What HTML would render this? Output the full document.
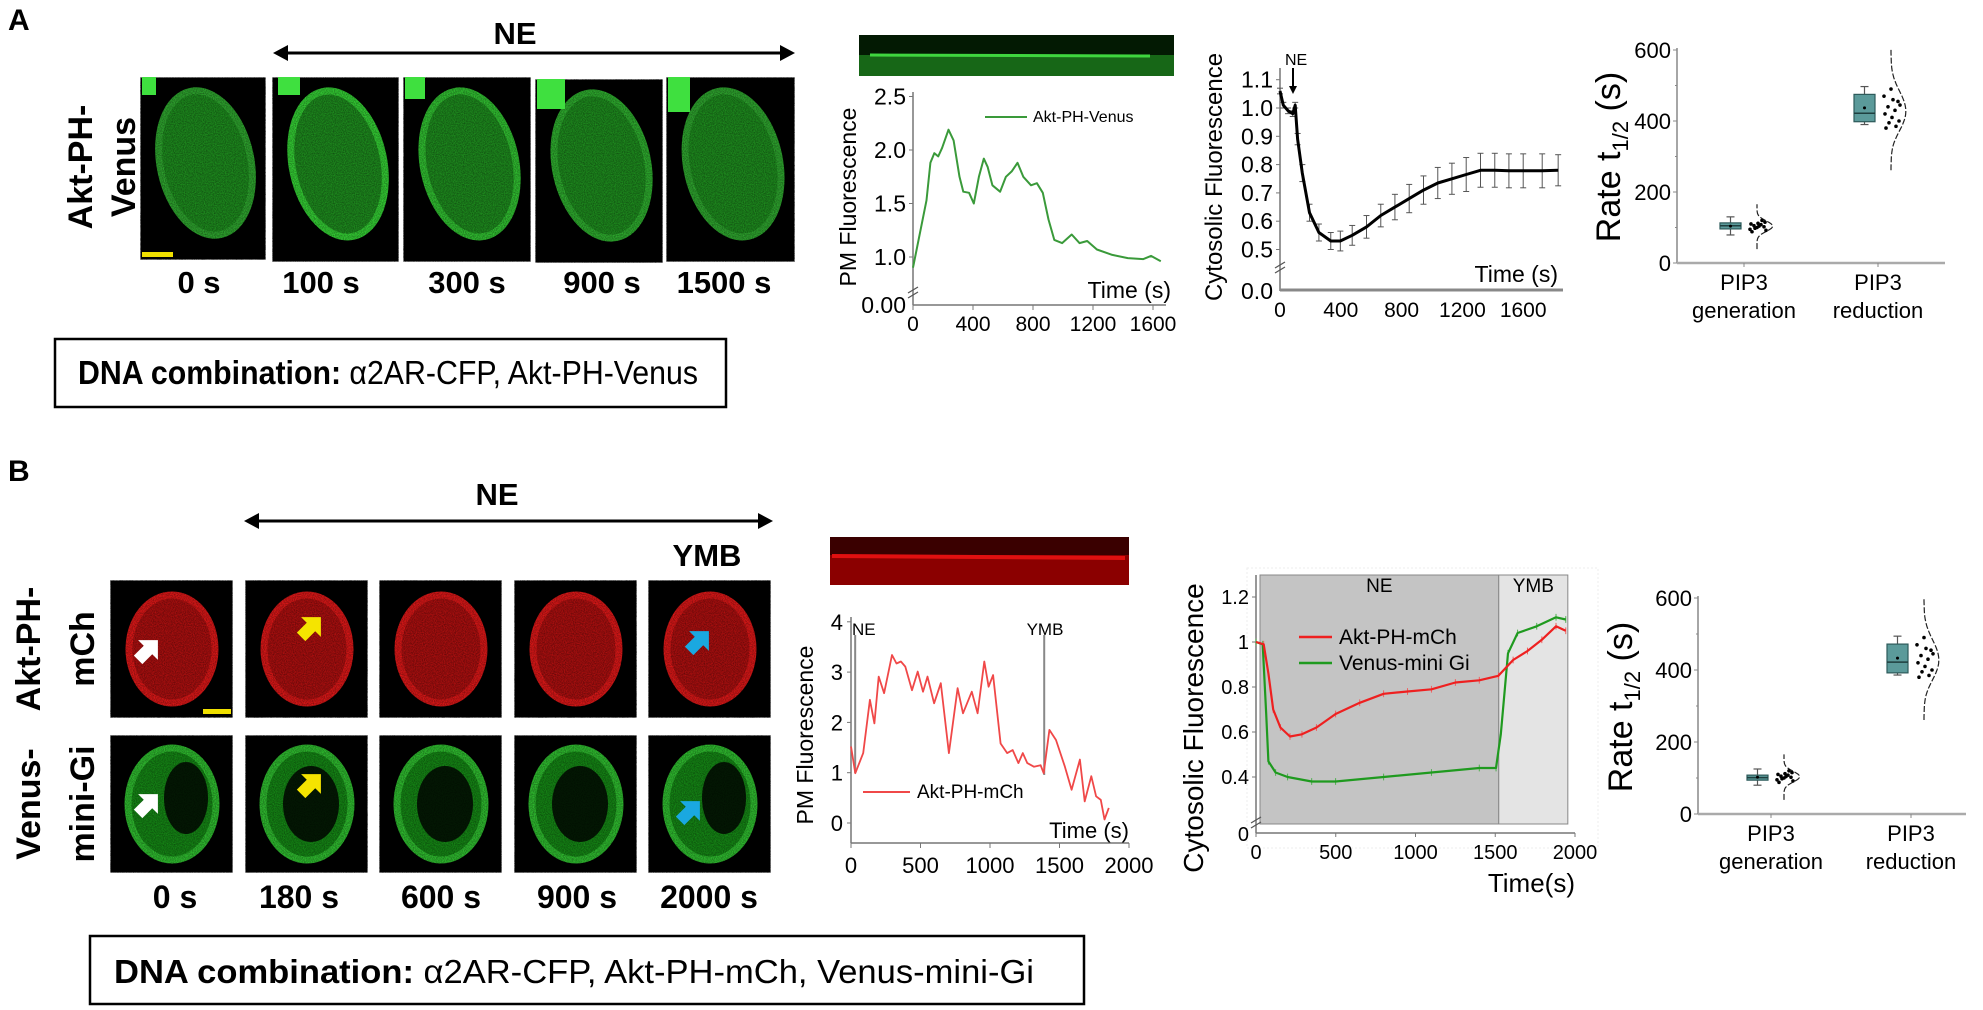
<!DOCTYPE html>
<html><head><meta charset="utf-8"><style>
html,body{margin:0;padding:0;background:#fff;}
svg{display:block;font-family:"Liberation Sans",Arial,sans-serif;}
</style></head><body>
<svg id="fig" width="1983" height="1010" viewBox="0 0 1983 1010" xmlns="http://www.w3.org/2000/svg">
<defs>
<filter id="noise" x="0" y="0" width="100%" height="100%"><feTurbulence type="fractalNoise" baseFrequency="0.9" numOctaves="2" seed="3"/><feColorMatrix type="matrix" values="0 0 0 0 0  0 0 0 0 0  0 0 0 0 0  0 0 0 -1.4 1.1"/><feComposite in2="SourceGraphic" operator="in"/></filter>
</defs>
<!-- Panel A static text -->
<text x="8" y="30" font-size="30" font-weight="bold">A</text>
<text x="515" y="44" font-size="31" font-weight="bold" text-anchor="middle">NE</text>
<g stroke="#000" stroke-width="3" fill="#000">
<line x1="283" y1="53" x2="785" y2="53"/><polygon points="273,53 288,45 288,61" stroke="none"/><polygon points="795,53 780,45 780,61" stroke="none"/></g>
<text transform="translate(92,167) rotate(-90)" font-size="34" font-weight="bold" text-anchor="middle">Akt-PH-</text>
<text transform="translate(135,167) rotate(-90)" font-size="34" font-weight="bold" text-anchor="middle">Venus</text>
<g id="cellsA"></g>
<g font-size="31" font-weight="bold" text-anchor="middle">
<text x="199" y="293">0 s</text>
<text x="321" y="293">100 s</text>
<text x="467" y="293">300 s</text>
<text x="602" y="293">900 s</text>
<text x="724" y="293">1500 s</text></g>
<rect x="55" y="339" width="671" height="68" fill="none" stroke="#000" stroke-width="2.5"/>
<text x="78" y="384" font-size="33" textLength="620" lengthAdjust="spacingAndGlyphs"><tspan font-weight="bold">DNA combination:</tspan> α2AR-CFP, Akt-PH-Venus</text>
<rect x="859" y="35" width="315" height="41" fill="#031a03"/>
<rect x="859" y="55" width="315" height="21" fill="#1d7a1d" opacity="0.8"/>
<line x1="870" y1="55" x2="1150" y2="56" stroke="#3fd63f" stroke-width="3"/>

<!-- Panel B static text -->
<text x="8" y="481" font-size="30" font-weight="bold">B</text>
<text x="497" y="505" font-size="31" font-weight="bold" text-anchor="middle">NE</text>
<g stroke="#000" stroke-width="3" fill="#000">
<line x1="254" y1="521" x2="763" y2="521"/><polygon points="244,521 259,513 259,529" stroke="none"/><polygon points="773,521 758,513 758,529" stroke="none"/></g>
<text x="707" y="566" font-size="31" font-weight="bold" text-anchor="middle">YMB</text>
<text transform="translate(40,649) rotate(-90)" font-size="34" font-weight="bold" text-anchor="middle">Akt-PH-</text>
<text transform="translate(94,649) rotate(-90)" font-size="34" font-weight="bold" text-anchor="middle">mCh</text>
<text transform="translate(40,804) rotate(-90)" font-size="34" font-weight="bold" text-anchor="middle">Venus-</text>
<text transform="translate(94,804) rotate(-90)" font-size="34" font-weight="bold" text-anchor="middle">mini-Gi</text>
<g id="cellsB"></g>
<g font-size="32" font-weight="bold" text-anchor="middle">
<text x="175" y="908">0 s</text>
<text x="299" y="908">180 s</text>
<text x="441" y="908">600 s</text>
<text x="577" y="908">900 s</text>
<text x="709" y="908">2000 s</text></g>
<rect x="90" y="936" width="994" height="68" fill="none" stroke="#000" stroke-width="2.5"/>
<text x="114" y="983" font-size="33" textLength="920" lengthAdjust="spacingAndGlyphs"><tspan font-weight="bold">DNA combination:</tspan> α2AR-CFP, Akt-PH-mCh, Venus-mini-Gi</text>
<rect x="830" y="537" width="299" height="48" fill="#3a0000"/>
<rect x="830" y="555" width="299" height="30" fill="#a00000" opacity="0.8"/>
<line x1="832" y1="556" x2="1125" y2="558" stroke="#e01010" stroke-width="4"/>
<g id="charts"></g>
</svg>
<script>
// ===== Data: PM fluorescence, panel A =====
var pmATime = [0,90,116,142,168,194,237,271,310,335,374,405,439,472,498,529,581,619,658,697,735,787,826,865,903,942,994,1058,1110,1161,1226,1329,1432,1535,1587,1652];
var pmAValue = [0.90,1.53,1.88,1.97,1.94,2.02,2.19,2.09,1.75,1.61,1.60,1.50,1.75,1.92,1.84,1.67,1.61,1.75,1.80,1.88,1.75,1.67,1.69,1.60,1.35,1.16,1.13,1.21,1.13,1.15,1.07,1.02,0.99,0.98,1.01,0.96];
var pmAYTicks = [1.0,1.5,2.0,2.5];
var pmAXTicks = [0,400,800,1200,1600];
// ===== Data: cytosolic, panel A =====
var cytATime = [0,22,53,84,100,116,147,194,256,334,397,475,569,663,756,850,944,1038,1131,1225,1319,1413,1506,1600,1725,1830];
var cytAValue = [1.06,1.01,0.99,0.98,1.01,0.89,0.77,0.63,0.56,0.53,0.53,0.55,0.58,0.62,0.65,0.68,0.71,0.735,0.75,0.765,0.78,0.78,0.778,0.778,0.778,0.78];
var cytAErr = [0.01,0.01,0.01,0.01,0.01,0.02,0.03,0.03,0.03,0.03,0.035,0.035,0.04,0.04,0.045,0.05,0.05,0.055,0.055,0.06,0.06,0.06,0.06,0.06,0.06,0.055];
var cytAYTicks = [0.5,0.6,0.7,0.8,0.9,1.0,1.1];
var cytAXTicks = [0,400,800,1200,1600];
// ===== Data: box plots =====
var boxCategories = ["generation","reduction"];
var boxAStats = [[79,96,105,113,130,104],[390,398,422,475,497,437]]; // min,q1,median,q3,max,mean
var boxBStats = [[80,94,101,108,125,102],[386,392,422,472,494,433]];
var dotsGen = [95,100,102,105,108,110,112,115,98,120,88,104,92];
var dotsRed = [470,490,455,440,430,420,410,400,395,385,380,460,445];
var boxYTicks = [0,200,400,600];
// ===== Data: PM fluorescence, panel B =====
var pmBTime = [0,31,88,136,168,199,238,295,327,359,391,439,480,518,550,598,646,704,767,806,869,911,959,990,1022,1076,1124,1163,1204,1236,1268,1316,1364,1386,1427,1475,1539,1587,1647,1681,1729,1763,1797,1824,1855];
var pmBValue = [1.52,0.99,1.39,2.45,1.98,2.91,2.58,3.34,3.17,3.21,3.11,2.64,3.01,2.61,2.91,2.38,2.78,1.39,2.68,2.18,2.61,2.18,3.21,2.71,2.94,1.58,1.39,1.45,1.19,1.39,1.19,1.12,1.15,0.99,1.85,1.65,1.12,0.66,1.26,0.43,0.93,0.53,0.46,0.07,0.30];
var pmBYTicks = [0,1,2,3,4];
var pmBXTicks = [0,500,1000,1500,2000];
// ===== Data: cytosolic, panel B =====
var cytBRedTime = [0,48,78,108,153,213,288,379,499,650,800,950,1100,1250,1400,1520,1612,1702,1792,1881,1942];
var cytBRedValue = [1.0,0.99,0.86,0.70,0.62,0.58,0.59,0.62,0.68,0.73,0.77,0.78,0.79,0.82,0.83,0.85,0.92,0.96,1.01,1.07,1.05];
var cytBGreenTime = [0,42,64,78,123,198,349,499,800,1100,1400,1505,1535,1580,1640,1760,1881,1942];
var cytBGreenValue = [1.0,0.99,0.68,0.47,0.42,0.40,0.38,0.38,0.40,0.42,0.44,0.44,0.59,0.95,1.04,1.07,1.11,1.10];
var cytBYTicks = [0.4,0.6,0.8,1,1.2];
var cytBXTicks = [0,500,1000,1500,2000];
var cytBPhases = [["NE",0,1522],["YMB",1522,1955]];

var NS = "http://www.w3.org/2000/svg";
var root = document.getElementById("charts");
function mk(tag, attrs, parent, name){
  var el = document.createElementNS(NS, tag);
  for (var k in attrs) el.setAttribute(k, attrs[k]);
  
  
  (parent||root).appendChild(el);
  return el;
}
function txt(x,y,s,size,anchor,name,extra){
  var a = {x:x,y:y,"font-size":size,"text-anchor":anchor||"start"};
  if (extra) for (var k in extra) a[k]=extra[k];
  var t = mk("text", a, root, name);
  t.textContent = s;
  return t;
}
function poly(xs, ys, fx, fy, color, w, name){
  var p = [];
  for (var i=0;i<xs.length;i++) p.push(fx(xs[i]).toFixed(1)+","+fy(ys[i]).toFixed(1));
  return mk("polyline",{points:p.join(" "),fill:"none",stroke:color,"stroke-width":w,"stroke-linejoin":"round"},root,name);
}
function brk(x,y){
  mk("path",{d:"M"+(x-5)+","+(y+3)+" l10,-6 M"+(x-5)+","+(y+8)+" l10,-6",stroke:"#555","stroke-width":1.3,fill:"none"},root,"axis-break");
}

// ===== Cells =====
function cell(g, x, y, w, h, col, fill, mem, cx, cy, rx, ry, rot, name, nuc){
  mk("rect",{x:x,y:y,width:w,height:h,fill:"#000",stroke:"#fff","stroke-width":1},g,name);
  mk("ellipse",{cx:cx,cy:cy,rx:rx,ry:ry,fill:fill,stroke:mem,"stroke-width":7,transform:"rotate("+rot+" "+cx+" "+cy+")"},g,name+"-cell");
  if (nuc) mk("ellipse",{cx:cx+nuc[0],cy:cy+nuc[1],rx:nuc[2],ry:nuc[3],fill:"#041a04"},g,name+"-nucleus");
  mk("rect",{x:x,y:y,width:w,height:h,fill:"#000",filter:"url(#noise)",opacity:0.5},g,name+"-texture");
}
var gA = document.getElementById("cellsA");
var imgA = [[140,77,126,183],[272,77,127,185],[403,77,128,185],[535,79,128,184],[666,77,129,185]];
var memA = ["#2fa82f","#35d235","#32c432","#2fb02f","#2fa82f"];
for (var i=0;i<imgA.length;i++){
  var r=imgA[i];
  cell(gA,r[0],r[1],r[2],r[3],"g","#1f8f1f",memA[i],r[0]+r[2]*0.52,r[1]+r[3]*0.47,r[2]*0.36,r[3]*0.4,-12,"cell-image-a-"+i);
}
mk("rect",{x:278,y:77,width:22,height:18,fill:"#3fe03f"},gA,"bright-debris");
mk("rect",{x:142,y:77,width:14,height:18,fill:"#3fe03f"},gA,"bright-debris");
mk("rect",{x:405,y:77,width:20,height:22,fill:"#3fe03f"},gA,"bright-debris");
mk("rect",{x:537,y:79,width:28,height:30,fill:"#3fe03f"},gA,"bright-debris");
mk("rect",{x:668,y:77,width:22,height:35,fill:"#3fe03f"},gA,"bright-debris");
mk("rect",{x:142,y:252,width:31,height:5,fill:"#f0e000"},gA,"scale-bar-a");

var gB = document.getElementById("cellsB");
var colsB = [110,245,379,514,648];
for (var i=0;i<5;i++){
  cell(gB,colsB[i],580,123,138,"r","#b01010","#e01818",colsB[i]+62,649,43,54,0,"cell-image-mch-"+i,null);
  cell(gB,colsB[i],735,123,138,"g","#168a16","#30c030",colsB[i]+62,804,44,56,0,"cell-image-venus-"+i,(i==0||i==4)?[14,-6,22,36]:[4,0,28,38]);
}
mk("rect",{x:203,y:709,width:28,height:5,fill:"#f0e000"},gB,"scale-bar-b");
function bigArrow(x,y,col,name){
  mk("path",{d:"M0,-14 L14,0 L6,0 L6,14 L-6,14 L-6,0 L-14,0 Z",fill:col,transform:"translate("+x+","+y+") rotate(45)"},gB,name);
}
bigArrow(148,650,"#fff","white-arrow-mch");
bigArrow(311,627,"#f5e400","yellow-arrow-mch");
bigArrow(699,641,"#1aa8e0","blue-arrow-mch");
bigArrow(148,804,"#fff","white-arrow-venus");
bigArrow(311,784,"#f5e400","yellow-arrow-venus");
bigArrow(690,811,"#1aa8e0","blue-arrow-venus");

// ===== PM chart A =====
(function(){
  var X=function(t){return 913+t*0.15;}, Y=function(v){return 257-(v-1)*107;};
  mk("line",{x1:913,y1:92,x2:913,y2:305,stroke:"#777","stroke-width":1.5},root,"pm-a-y-axis");
  mk("line",{x1:913,y1:305,x2:1166,y2:305,stroke:"#777","stroke-width":1.5},root,"pm-a-x-axis");
  brk(913,290);
  pmAYTicks.forEach(function(v){
    mk("line",{x1:909,y1:Y(v),x2:913,y2:Y(v),stroke:"#777"},root,"pm-a-y-tick");
    txt(906,Y(v)+8,v.toFixed(1),23,"end","pm-a-y-tick-label");
  });
  txt(906,313,"0.00",23,"end","pm-a-y-tick-label");
  pmAXTicks.forEach(function(t){
    mk("line",{x1:X(t),y1:305,x2:X(t),y2:310,stroke:"#777"},root,"pm-a-x-tick");
    txt(X(t),331,String(t),21,"middle","pm-a-x-tick-label");
  });
  poly(pmATime,pmAValue,X,Y,"#3a9a3a",2,"pm-a-line");
  mk("line",{x1:985,y1:117,x2:1027,y2:117,stroke:"#3a9a3a","stroke-width":2},root,"pm-a-legend-line");
  txt(1033,122,"Akt-PH-Venus",16,"start","pm-a-legend-text");
  txt(1171,298,"Time (s)",23,"end","pm-a-x-title");
  txt(0,0,"PM Fluorescence",23,"middle","pm-a-y-title",{transform:"translate(856,197) rotate(-90)"});
})();

// ===== Cyto chart A =====
(function(){
  var X=function(t){return 1280+t*0.152;}, Y=function(v){return 108-(v-1)*283;};
  mk("line",{x1:1280,y1:68,x2:1280,y2:291,stroke:"#777","stroke-width":1.5},root,"cyt-a-y-axis");
  mk("line",{x1:1280,y1:290,x2:1563,y2:290,stroke:"#888","stroke-width":3},root,"cyt-a-x-axis");
  brk(1280,265);
  cytAYTicks.forEach(function(v){
    mk("line",{x1:1276,y1:Y(v),x2:1280,y2:Y(v),stroke:"#777"},root,"cyt-a-y-tick");
    txt(1273,Y(v)+8,v.toFixed(1),23,"end","cyt-a-y-tick-label");
  });
  txt(1273,299,"0.0",23,"end","cyt-a-y-tick-label");
  cytAXTicks.forEach(function(t){
    txt(X(t),317,String(t),21,"middle","cyt-a-x-tick-label");
  });
  for (var i=0;i<cytATime.length;i++){
    var x=X(cytATime[i]);
    mk("line",{x1:x,y1:Y(cytAValue[i]+cytAErr[i]),x2:x,y2:Y(cytAValue[i]-cytAErr[i]),stroke:"#555","stroke-width":1},root,"cyt-a-error-bar");
    mk("line",{x1:x-3,y1:Y(cytAValue[i]+cytAErr[i]),x2:x+3,y2:Y(cytAValue[i]+cytAErr[i]),stroke:"#555","stroke-width":1},root,"cyt-a-error-cap");
    mk("line",{x1:x-3,y1:Y(cytAValue[i]-cytAErr[i]),x2:x+3,y2:Y(cytAValue[i]-cytAErr[i]),stroke:"#555","stroke-width":1},root,"cyt-a-error-cap");
  }
  poly(cytATime,cytAValue,X,Y,"#000",3,"cyt-a-line");
  txt(1285,65,"NE",16,"start","cyt-a-ne-label");
  mk("line",{x1:1293,y1:68,x2:1293,y2:88,stroke:"#000","stroke-width":2},root,"cyt-a-ne-arrow");
  mk("polygon",{points:"1289,86 1297,86 1293,94"},root,"cyt-a-ne-arrowhead");
  txt(1558,282,"Time (s)",23,"end","cyt-a-x-title");
  txt(0,0,"Cytosolic Fluorescence",24,"middle","cyt-a-y-title",{transform:"translate(1222,177) rotate(-90)"});
})();

// ===== Box plots =====
function boxPlot(ax, y0, yTop, cats, stats, yScale, tag){
  var Y=function(v){return y0 - v*yScale;};
  mk("line",{x1:ax,y1:Y(600)-2,x2:ax,y2:y0,stroke:"#888","stroke-width":1.5},root,tag+"-y-axis");
  mk("line",{x1:ax,y1:y0,x2:ax+268,y2:y0,stroke:"#aaa","stroke-width":2.5},root,tag+"-x-axis");
  boxYTicks.forEach(function(v){
    mk("line",{x1:ax-4,y1:Y(v),x2:ax,y2:Y(v),stroke:"#888"},root,tag+"-y-tick");
    txt(ax-6,Y(v)+8,String(v),22,"end",tag+"-y-tick-label");
  });
  [100,300,500].forEach(function(v){ mk("line",{x1:ax-2,y1:Y(v),x2:ax,y2:Y(v),stroke:"#888"},root,tag+"-minor-tick"); });
  var dotsets=[dotsGen,dotsRed];
  for (var c=0;c<cats.length;c++){
    var cx=cats[c], s=stats[c], bx=cx-24, bw=21, mid=bx+bw/2;
    mk("line",{x1:cx,y1:y0,x2:cx,y2:y0+4,stroke:"#888"},root,tag+"-x-tick");
    mk("line",{x1:mid,y1:Y(s[0]),x2:mid,y2:Y(s[4]),stroke:"#555","stroke-width":1.2},root,tag+"-whisker");
    mk("line",{x1:mid-4,y1:Y(s[0]),x2:mid+4,y2:Y(s[0]),stroke:"#555","stroke-width":1.2},root,tag+"-whisker-cap");
    mk("line",{x1:mid-4,y1:Y(s[4]),x2:mid+4,y2:Y(s[4]),stroke:"#555","stroke-width":1.2},root,tag+"-whisker-cap");
    mk("rect",{x:bx,y:Y(s[3]),width:bw,height:Y(s[1])-Y(s[3]),fill:"#5b9a9a",stroke:"#2d5a5a","stroke-width":1.2},root,tag+"-box-"+boxCategories[c]);
    mk("line",{x1:bx,y1:Y(s[2]),x2:bx+bw,y2:Y(s[2]),stroke:"#1f3f3f","stroke-width":1.5},root,tag+"-median");
    mk("circle",{cx:mid,cy:Y(s[5]),r:1.5,fill:"#000"},root,tag+"-mean");
    var d=dotsets[c], lo=Math.min.apply(null,d), hi=Math.max.apply(null,d), sd=(hi-lo)/3;
    var vx=cx+13, pts=[], pad=(hi-lo)*0.9+20;
    for (var v=lo-pad; v<=hi+pad; v+=(hi-lo+2*pad)/40){
      var k=0; d.forEach(function(u){k+=Math.exp(-0.5*Math.pow((v-u)/sd,2));});
      pts.push((vx+k*1.6).toFixed(1)+","+Y(v).toFixed(1));
    }
    mk("polyline",{points:pts.join(" "),fill:"none",stroke:"#222","stroke-width":1.2,"stroke-dasharray":"6,2"},root,tag+"-violin");
    d.forEach(function(v,j){
      mk("circle",{cx:cx+6+((j*7)%17),cy:Y(v),r:1.8,fill:"#000"},root,tag+"-dot");
    });
    txt(cx,y0+27,"PIP3",22,"middle",tag+"-x-label");
    txt(cx,y0+55,boxCategories[c],22,"middle",tag+"-x-label-2");
  }
}
boxPlot(1677,263,50,[1744,1878],boxAStats,213/600,"box-a");
txt(0,0,"Rate t",34,"middle","box-a-y-title",{transform:"translate(1620,157) rotate(-90)"}).innerHTML='Rate t<tspan font-size="22" dy="8">1/2</tspan><tspan dy="-8"> (s)</tspan>';
boxPlot(1698,814,598,[1771,1911],boxBStats,216/600,"box-b");
txt(0,0,"Rate t",34,"middle","box-b-y-title",{transform:"translate(1632,707) rotate(-90)"}).innerHTML='Rate t<tspan font-size="22" dy="8">1/2</tspan><tspan dy="-8"> (s)</tspan>';

// ===== PM chart B =====
(function(){
  var X=function(t){return 851+t*0.139;}, Y=function(v){return 823-v*50.3;};
  mk("line",{x1:851,y1:617,x2:851,y2:843,stroke:"#777","stroke-width":1.5},root,"pm-b-y-axis");
  mk("line",{x1:851,y1:843,x2:1129,y2:843,stroke:"#777","stroke-width":1.5},root,"pm-b-x-axis");
  pmBYTicks.forEach(function(v){
    mk("line",{x1:847,y1:Y(v),x2:851,y2:Y(v),stroke:"#777"},root,"pm-b-y-tick");
    txt(843,Y(v)+8,String(v),22,"end","pm-b-y-tick-label");
  });
  pmBXTicks.forEach(function(t){
    mk("line",{x1:X(t),y1:843,x2:X(t),y2:848,stroke:"#777"},root,"pm-b-x-tick");
    txt(X(t),873,String(t),22,"middle","pm-b-x-tick-label");
  });
  mk("line",{x1:X(30),y1:635,x2:X(30),y2:773,stroke:"#888","stroke-width":2},root,"pm-b-ne-marker");
  mk("line",{x1:X(1390),y1:635,x2:X(1390),y2:775,stroke:"#888","stroke-width":2},root,"pm-b-ymb-marker");
  txt(852,635,"NE",17,"start","pm-b-ne-label");
  txt(1045,635,"YMB",17,"middle","pm-b-ymb-label");
  poly(pmBTime,pmBValue,X,Y,"#f04848",1.8,"pm-b-line");
  mk("line",{x1:863,y1:792,x2:910,y2:792,stroke:"#f04848","stroke-width":2},root,"pm-b-legend-line");
  txt(917,798,"Akt-PH-mCh",19,"start","pm-b-legend-text");
  txt(1129,838,"Time (s)",22,"end","pm-b-x-title");
  txt(0,0,"PM Fluorescence",23,"middle","pm-b-y-title",{transform:"translate(813,735) rotate(-90)"});
})();

// ===== Cyto chart B =====
(function(){
  var X=function(t){return 1256+t*0.1595;}, Y=function(v){return 642-(v-1)*225;};
  mk("rect",{x:1247,y:568,width:351,height:280,fill:"none",stroke:"#eee","stroke-width":1,"stroke-dasharray":"2,2"},root,"cyt-b-frame");
  var fills=["#c4c4c4","#e4e4e4"];
  cytBPhases.forEach(function(p,i){
    var x1=Math.max(X(p[1]),1260);
    mk("rect",{x:x1,y:575,width:X(p[2])-x1,height:249,fill:fills[i],stroke:"#888","stroke-width":1},root,"cyt-b-phase-"+p[0]);
    txt((x1+X(p[2]))/2,592,p[0],19,"middle","cyt-b-phase-label");
  });
  mk("line",{x1:1256,y1:575,x2:1256,y2:833,stroke:"#777","stroke-width":1.5},root,"cyt-b-y-axis");
  mk("line",{x1:1256,y1:833,x2:1575,y2:833,stroke:"#777","stroke-width":1.5},root,"cyt-b-x-axis");
  brk(1256,820);
  cytBYTicks.forEach(function(v){
    mk("line",{x1:1252,y1:Y(v),x2:1256,y2:Y(v),stroke:"#777"},root,"cyt-b-y-tick");
    txt(1249,Y(v)+7,String(v),20,"end","cyt-b-y-tick-label");
  });
  txt(1249,841,"0",20,"end","cyt-b-y-tick-label");
  cytBXTicks.forEach(function(t){
    mk("line",{x1:X(t),y1:833,x2:X(t),y2:837,stroke:"#777"},root,"cyt-b-x-tick");
    txt(X(t),859,String(t),20,"middle","cyt-b-x-tick-label");
  });
  for (var i=0;i<cytBRedTime.length;i++){
    var x=X(cytBRedTime[i]);
    mk("line",{x1:x,y1:Y(cytBRedValue[i]+0.015),x2:x,y2:Y(cytBRedValue[i]-0.015),stroke:"#f06060","stroke-width":1},root,"cyt-b-red-error");
  }
  for (var i=0;i<cytBGreenTime.length;i++){
    var x=X(cytBGreenTime[i]);
    mk("line",{x1:x,y1:Y(cytBGreenValue[i]+0.015),x2:x,y2:Y(cytBGreenValue[i]-0.015),stroke:"#50b050","stroke-width":1},root,"cyt-b-green-error");
  }
  poly(cytBGreenTime,cytBGreenValue,X,Y,"#1f9a1f",2.2,"cyt-b-green-line");
  poly(cytBRedTime,cytBRedValue,X,Y,"#ee2020",2.2,"cyt-b-red-line");
  mk("line",{x1:1299,y1:637,x2:1332,y2:637,stroke:"#ee2020","stroke-width":2.5},root,"cyt-b-legend-red-line");
  txt(1339,644,"Akt-PH-mCh",21,"start","cyt-b-legend-red-text");
  mk("line",{x1:1299,y1:663,x2:1332,y2:663,stroke:"#1f9a1f","stroke-width":2.5},root,"cyt-b-legend-green-line");
  txt(1339,670,"Venus-mini Gi",21,"start","cyt-b-legend-green-text");
  txt(1575,892,"Time(s)",26,"end","cyt-b-x-title");
  txt(0,0,"Cytosolic Fluorescence",28,"middle","cyt-b-y-title",{transform:"translate(1203,728) rotate(-90)"});
})();
</script>
</body></html>
